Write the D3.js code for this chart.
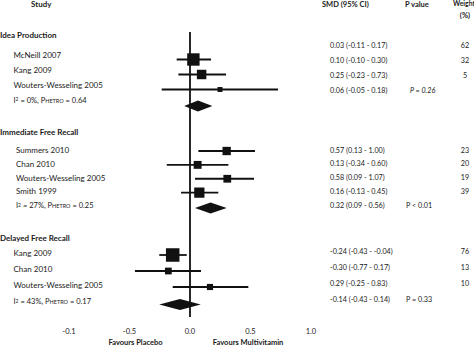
<!DOCTYPE html>
<html>
<head>
<meta charset="utf-8">
<script src="https://cdn.jsdelivr.net/npm/d3@7"></script>
<style>
  html, body { margin: 0; padding: 0; background: #fff; overflow: hidden; }
  svg { display: block; }
  text { font-family: Lato, "Open Sans", sans-serif; fill: #1a1a1a; }
  .bold { font-weight: bold; }
</style>
</head>
<body>
<script>
// section headings and the studies inside them
var sections = ["Idea Production", "Immediate Free Recall", "Delayed Free Recall"];
var studyNames = ["McNeill 2007", "Kang 2009", "Wouters-Wesseling 2005",
                  "Summers 2010", "Chan 2010", "Wouters-Wesseling 2005", "Smith 1999",
                  "Kang 2009", "Chan 2010", "Wouters-Wesseling 2005"];
var studySection = [0, 0, 0, 1, 1, 1, 1, 2, 2, 2];

// where the marks sit on the plot
var est   = [0.028, 0.096, 0.248, 0.303, 0.063, 0.308, 0.077, -0.143, -0.179, 0.165];
var lower = [-0.110, -0.096, -0.234, 0.069, -0.192, 0.041, -0.074, -0.254, -0.455, -0.143];
var upper = [0.174, 0.298, 0.727, 0.537, 0.317, 0.529, 0.234, -0.027, 0.091, 0.482];
var weights = [62, 32, 5, 23, 20, 19, 39, 76, 13, 10];

// text in the table columns
var smdLabels = ["0.03 (-0.11 - 0.17)", "0.10 (-0.10 - 0.30)", "0.25 (-0.23 - 0.73)",
                 "0.57 (0.13 - 1.00)", "0.13 (-0.34 - 0.60)", "0.58 (0.09 - 1.07)", "0.16 (-0.13 - 0.45)",
                 "-0.24 (-0.43 - -0.04)", "-0.30 (-0.77 - 0.17)", "0.29 (-0.25 - 0.83)"];

// pooled estimates per section
var pooledEst   = [0.066, 0.170, -0.083];
var pooledLower = [-0.048, 0.041, -0.254];
var pooledUpper = [0.185, 0.303, 0.089];
var pooledLabels = ["0.06 (-0.05 - 0.18)", "0.32 (0.09 - 0.56)", "-0.14 (-0.43 - 0.14)"];
var pValues = ["P = 0.26", "P < 0.01", "P = 0.33"];
var hetI2 = ["0%", "27%", "43%"];
var hetP = ["0.64", " 0.25", " 0.17"];

// axis
var tickValues = [-1, -0.5, 0, 0.5, 1];
var tickLabels = ["-0.1", "-0.5", "0.0", "0.5", "1.0"];

var W = 474, H = 347;

var svg = d3.select("body").append("svg")
    .attr("width", W)
    .attr("height", H);

var x = d3.scaleLinear().domain([0, 1]).range([190, 311]);

// rows: heading, studies, pooled, blank
var rowY = d3.scaleLinear()
    .domain([0, 1, 4, 6, 7, 11, 13, 14, 17])
    .range([35, 55, 100, 131.7, 150, 205.5, 238.3, 253.5, 301.5]);

// small per-section nudges of the original figure
var markShift = [4.5, 1, 1.5];
var colShift = [-10, 0, -2];

var boxSize = d3.scaleSqrt().domain([0, 76]).range([2, 13.5]);

var colSmd = 330, colP = 406, colW = 465;

// assign rows
var headRow = [], pooledRow = [], studyRow = [];
var r = 0;
sections.forEach(function(s, si) {
  headRow[si] = r; r++;
  studySection.forEach(function(sec, i) {
    if (sec === si) { studyRow[i] = r; r++; }
  });
  pooledRow[si] = r; r += 2;
});

// column headers
svg.append("text").attr("class", "bold").attr("x", 31).attr("y", 4).attr("dy", "0.35em")
    .attr("font-size", 8).text("Study");
svg.append("text").attr("class", "bold").attr("x", 322).attr("y", 4).attr("dy", "0.35em")
    .attr("font-size", 7.5).text("SMD (95% CI)");
svg.append("text").attr("class", "bold").attr("x", 405).attr("y", 4).attr("dy", "0.35em")
    .attr("font-size", 7.5).text("P value");
svg.append("text").attr("class", "bold").attr("x", 453).attr("y", 4).attr("dy", "0.35em")
    .attr("font-size", 6.8).text("Weight");
svg.append("text").attr("class", "bold").attr("x", colW).attr("y", 15).attr("dy", "0.35em")
    .attr("text-anchor", "middle").attr("font-size", 7.5).text("(%)");

// section headings
svg.selectAll(".heading")
    .data(sections)
    .enter().append("text")
    .attr("class", "heading bold")
    .attr("x", 0)
    .attr("y", function(d, i) { return rowY(headRow[i]); })
    .attr("dy", "0.35em")
    .attr("font-size", 8)
    .text(function(d) { return d; });

// study names
svg.selectAll(".study")
    .data(studyNames)
    .enter().append("text")
    .attr("class", "study")
    .attr("x", function(d, i) { return studySection[i] === 1 ? 16 : 13.5; })
    .attr("y", function(d, i) { return rowY(studyRow[i]); })
    .attr("dy", "0.35em")
    .attr("font-size", 8)
    .text(function(d) { return d; });

// heterogeneity lines
sections.forEach(function(s, si) {
  var t = svg.append("text")
      .attr("x", si === 1 ? 16 : 13.5)
      .attr("y", rowY(pooledRow[si]))
      .attr("dy", "0.35em")
      .attr("font-size", 7.5);
  t.append("tspan").text("I");
  t.append("tspan").attr("font-size", 5).attr("dy", "-0.25em").text("2");
  t.append("tspan").attr("dy", "0.17em").text(" = " + hetI2[si] + ", P");
  t.append("tspan").attr("font-size", 5.5).text("HETRO");
  t.append("tspan").text(" = " + hetP[si]);
});

// zero line
svg.append("line")
    .attr("x1", x(0)).attr("x2", x(0))
    .attr("y1", 32).attr("y2", 317)
    .attr("stroke", "#111").attr("stroke-width", 1.8);

// CI lines
svg.selectAll(".ci")
    .data(est)
    .enter().append("line")
    .attr("class", "ci")
    .attr("x1", function(d, i) { return x(lower[i]); })
    .attr("x2", function(d, i) { return x(upper[i]); })
    .attr("y1", function(d, i) { return rowY(studyRow[i]) + markShift[studySection[i]]; })
    .attr("y2", function(d, i) { return rowY(studyRow[i]) + markShift[studySection[i]]; })
    .attr("stroke", "#111").attr("stroke-width", 1.8);

// weight boxes
svg.selectAll(".box")
    .data(est)
    .enter().append("rect")
    .attr("class", "box")
    .attr("x", function(d, i) { return x(d) - boxSize(weights[i]) / 2; })
    .attr("y", function(d, i) { return rowY(studyRow[i]) + markShift[studySection[i]] - boxSize(weights[i]) / 2; })
    .attr("width", function(d, i) { return boxSize(weights[i]); })
    .attr("height", function(d, i) { return boxSize(weights[i]); })
    .attr("fill", "#111");

// pooled diamonds
svg.selectAll(".diamond")
    .data(pooledEst)
    .enter().append("path")
    .attr("class", "diamond")
    .attr("d", function(d, i) {
      var cy = rowY(pooledRow[i]) + markShift[i] + 1.5;
      return "M" + x(pooledLower[i]) + "," + cy +
             "L" + x(d) + "," + (cy - 5.5) +
             "L" + x(pooledUpper[i]) + "," + cy +
             "L" + x(d) + "," + (cy + 5.5) + "Z";
    })
    .attr("fill", "#111");

// SMD column
svg.selectAll(".smd")
    .data(smdLabels)
    .enter().append("text")
    .attr("class", "smd")
    .attr("x", colSmd)
    .attr("y", function(d, i) { return rowY(studyRow[i]) + colShift[studySection[i]]; })
    .attr("dy", "0.35em")
    .attr("font-size", 7.2)
    .text(function(d) { return d; });

svg.selectAll(".psmd")
    .data(pooledLabels)
    .enter().append("text")
    .attr("class", "psmd")
    .attr("x", colSmd)
    .attr("y", function(d, i) { return rowY(pooledRow[i]) + colShift[i]; })
    .attr("dy", "0.35em")
    .attr("font-size", 7.2)
    .text(function(d) { return d; });

svg.selectAll(".pval")
    .data(pValues)
    .enter().append("text")
    .attr("class", "pval")
    .attr("x", function(d, i) { return i === 0 ? 410 : colP; })
    .attr("y", function(d, i) { return rowY(pooledRow[i]) + colShift[i]; })
    .attr("dy", "0.35em")
    .attr("font-size", 7.2)
    .attr("font-style", function(d, i) { return i === 0 ? "italic" : null; })
    .text(function(d) { return d; });

// weights column
svg.selectAll(".wt")
    .data(weights)
    .enter().append("text")
    .attr("class", "wt")
    .attr("x", colW)
    .attr("y", function(d, i) { return rowY(studyRow[i]) + colShift[studySection[i]]; })
    .attr("dy", "0.35em")
    .attr("text-anchor", "middle")
    .attr("font-size", 7.2)
    .text(function(d) { return d; });

// axis tick labels (no axis line in the original)
svg.selectAll(".tick")
    .data(tickValues)
    .enter().append("text")
    .attr("class", "tick")
    .attr("x", function(d) { return x(d); })
    .attr("y", 331)
    .attr("dy", "0.35em")
    .attr("text-anchor", "middle")
    .attr("font-size", 7.5)
    .text(function(d, i) { return tickLabels[i]; });

svg.append("text").attr("class", "bold")
    .attr("x", x(-0.45)).attr("y", 342).attr("dy", "0.35em")
    .attr("text-anchor", "middle").attr("font-size", 7.5)
    .text("Favours Placebo");
svg.append("text").attr("class", "bold")
    .attr("x", x(0.48)).attr("y", 342).attr("dy", "0.35em")
    .attr("text-anchor", "middle").attr("font-size", 7.5)
    .text("Favours Multivitamin");
</script>
</body>
</html>
